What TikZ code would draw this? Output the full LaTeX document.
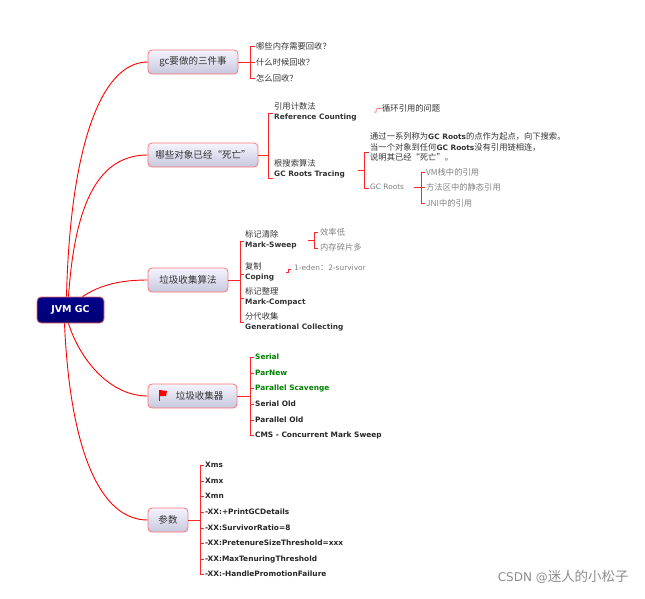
\documentclass[tikz,border=0pt]{standalone}
\usepackage{fontspec}
\setmainfont{DejaVu Sans}
\newfontfamily\cjk[Scale=1.12]{Noto Sans CJK SC}
\begin{document}
\begin{tikzpicture}[x=1pt,y=-1pt,
  br/.style={draw=red!80!pink,line width=0.5pt},
  con/.style={draw=red,line width=0.9pt},
  topic/.style={draw=red!55,line width=0.8pt,rounded corners=4pt,top color=blue!4!white,bottom color=blue!25!gray!35,font=\fontsize{8.5}{9}\selectfont\cjk,text=black!80,minimum height=24pt,inner xsep=6pt},
  lf/.style={anchor=west,inner sep=0pt,font=\fontsize{7.4}{10}\selectfont,text=black!80,align=left},
  cj/.style={lf,font=\fontsize{7.4}{10}\selectfont\cjk},
  gr/.style={lf,text=black!50},
  gc/.style={cj,text=black!50},
  bd/.style={lf,font=\fontsize{7.4}{10}\selectfont\bfseries,text=black!85},
  gn/.style={bd,text=green!50!black}]
\useasboundingbox (0,0) rectangle (645,598);
% root
\node[draw=red!60,line width=0.8pt,rounded corners=4pt,top color=blue!55!black,bottom color=blue!45!black,text=white,font=\fontsize{9.5}{10}\selectfont\bfseries,minimum width=67pt,minimum height=26pt] (root) at (70.5,310) {JVM GC};
\node[topic,minimum width=90pt] (b1) at (193,62) {gc要做的三件事};
\node[topic,minimum width=110pt] (b2) at (203,155) {哪些对象已经“死亡”};
\node[topic,minimum width=80pt] (b3) at (188,280) {垃圾收集算法};
\node[topic,minimum width=89pt,text width=62pt,align=right] (b4) at (192.5,396) {垃圾收集器};
\node[topic,minimum width=40pt] (b5) at (168,520) {参数};
% flag
\draw[black!70,line width=0.5pt] (159,401) -- (159,390);
\fill[red] (159.5,390) -- (167,391) -- (166,396) -- (159.5,396) -- cycle;
% main connectors
\draw[con] ([xshift=-4pt]root.north) .. controls (70,150) and (100,62) .. (b1.west);
\draw[con] ([xshift=-2pt]root.north) .. controls (75,200) and (100,155) .. (b2.west);
\draw[con] ([xshift=12pt]root.north) .. controls (100,285) and (120,280) .. (b3.west);
\draw[con] ([xshift=-2pt]root.south) .. controls (80,360) and (110,396) .. (b4.west);
\draw[con] ([xshift=-6pt]root.south) .. controls (70,450) and (100,520) .. (b5.west);
% branch 1
\draw[br] (b1.east) -- (250,62);
\draw[br] (250,46) -- (250,78);
\foreach \y/\t in {46/哪些内存需要回收？,62/什么时候回收？,78/怎么回收？}{
  \draw[br] (250,\y) -- (255,\y);
  \node[cj] at (256,\y) {\t};}
% branch 2
\draw[br] (b2.east) -- (268,155);
\draw[br] (268,113) -- (268,178) (268,113) -- (273,113) (268,178) -- (273,178);
\node[lf] (rc) at (274,112) {{\cjk 引用计数法}\\\textbf{Reference Counting}};
\node[lf] (gt) at (274,169) {{\cjk 根搜索算法}\\\textbf{GC Roots Tracing}};
\node[cj] (xh) at (382,108) {循环引用的问题};
\draw[br] (374,112) -- (376,112) -- (376,109) -- (xh.west);
\draw[br] (358,170) -- (364,170) (364,152) -- (364,188) (364,152) -- (369,152) (364,188) -- (369,188);
\node[cj,font=\fontsize{7.4}{10.5}\selectfont\cjk] (desc) at (370,147) {通过一系列称为{\fontspec{DejaVu Sans}\bfseries GC Roots}的点作为起点，向下搜索。\\当一个对象到任何{\fontspec{DejaVu Sans}\bfseries GC Roots}没有引用链相连，\\说明其已经“死亡”。};
\node[gr] (gcr) at (370,187) {GC Roots};
\draw[br] (414,187) -- (421,187);
\draw[br] (421,172) -- (421,203);
\foreach \y/\t in {172/VM栈中的引用,187/方法区中的静态引用,203/JNI中的引用}{
  \draw[br] (421,\y) -- (425,\y);
  \node[gc] at (426,\y) {\t};}
% branch 3
\draw[br] (b3.east) -- (240,280);
\draw[br] (240,241) -- (240,322);
\foreach \y in {241,274,298,322}{\draw[br] (240,\y) -- (244,\y);}
\node[lf] (ms) at (245,240) {{\cjk 标记清除}\\\textbf{Mark-Sweep}};
\node[lf] (cp) at (245,272) {{\cjk 复制}\\\textbf{Coping}};
\node[lf] at (245,297) {{\cjk 标记整理}\\\textbf{Mark-Compact}};
\node[lf] at (245,322) {{\cjk 分代收集}\\\textbf{Generational Collecting}};
\draw[br] (308,240) -- (314,240) (314,232) -- (314,248) (314,232) -- (318,232) (314,248) -- (318,248);
\node[gc] at (320,232) {效率低};
\node[gc] at (320,247) {内存碎片多};
\draw[br] (286,272) -- (288,272) -- (288,269) -- (291,269);
\node[gr] at (294,268) {1-eden{\cjk ：}2-survivor};
% branch 4
\draw[br] (b4.east) -- (250,396);
\draw[br] (250,357) -- (250,435);
\foreach \y/\t/\s in {357/Serial/gn,373/ParNew/gn,388/Parallel Scavenge/gn,404/Serial Old/bd,420/Parallel Old/bd,435/CMS - Concurrent Mark Sweep/bd}{
  \draw[br] (250,\y) -- (254,\y);
  \node[\s] at (255,\y) {\t};}
% branch 5
\draw[br] (b5.east) -- (200,520);
\draw[br] (200,465) -- (200,574);
\foreach \y/\t in {465/Xms,481/Xmx,496/Xmn,512/-XX:+PrintGCDetails,528/-XX:SurvivorRatio=8,543/-XX:PretenureSizeThreshold=xxx,559/-XX:MaxTenuringThreshold,574/-XX:-HandlePromotionFailure}{
  \draw[br] (200,\y) -- (204,\y);
  \node[bd] at (205,\y) {\t};}
% watermark
\node[anchor=east,text=black!45,font=\fontsize{12}{13}\selectfont] (wm) at (632,577) {CSDN @{\cjk 迷人的小松子}};
\end{tikzpicture}
\end{document}
